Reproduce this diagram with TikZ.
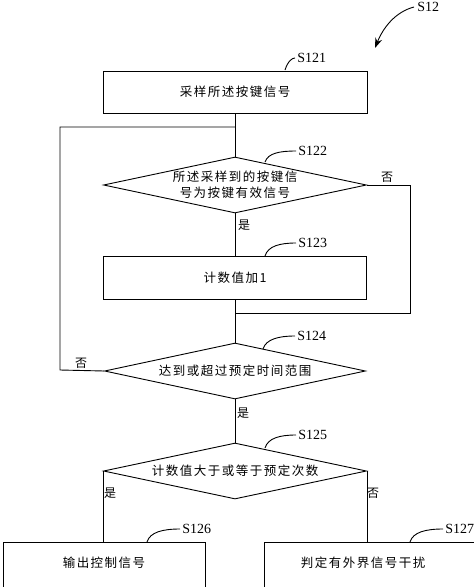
\documentclass[tikz,border=0pt]{standalone}
\usepackage{fontspec}
\setmainfont{Liberation Serif}
\newfontfamily\cjk{Noto Sans CJK SC}[LetterSpace=12]
\usetikzlibrary{shapes.geometric,arrows.meta}
\begin{document}
\begin{tikzpicture}[x=1pt,y=-1pt,line width=0.9pt,
  box/.style={draw,rectangle,inner sep=0pt,font=\cjk\fontsize{12.5}{16}\selectfont},
  dia/.style={draw,diamond,aspect=4.7,inner sep=0pt,minimum width=263pt,minimum height=56pt,align=center,font=\cjk\fontsize{12.5}{16}\selectfont},
  lbl/.style={anchor=west,inner sep=0pt,font=\fontsize{14}{16}\selectfont},
  yn/.style={inner sep=0pt,font=\cjk\fontsize{12}{14}\selectfont},
  lead/.style={shorten >=2pt}]
\useasboundingbox (0,0) rectangle (474,587);
% nodes
\node[box,minimum width=264pt,minimum height=42pt] (b1) at (235,92) {采样所述按键信号};
\node[dia] (d1) at (235,185) {所述采样到的按键信\\号为按键有效信号};
\node[box,minimum width=263pt,minimum height=43pt] (b2) at (235,277.5) {计数值加1};
\node[dia,minimum width=261pt] (d2) at (235,371) {达到或超过预定时间范围};
\node[dia] (d3) at (235,471) {计数值大于或等于预定次数};
\node[box,minimum width=202pt,minimum height=48pt] (b6) at (104,566) {};
\node[box,minimum width=216pt,minimum height=48pt] (b7) at (372,566) {};
\node[inner sep=0pt,font=\cjk\fontsize{12.5}{16}\selectfont] (t6) at (104,563) {输出控制信号};
\node[inner sep=0pt,font=\cjk\fontsize{12.5}{16}\selectfont] (t7) at (363,563) {判定有外界信号干扰};
% step labels
\node[lbl] (s12) at (417,7) {S12};
\node[lbl] (s121) at (297,58) {S121};
\node[lbl] (s122) at (298,151) {S122};
\node[lbl] (s123) at (298,243) {S123};
\node[lbl] (s124) at (297,336) {S124};
\node[lbl] (s125) at (298,435) {S125};
\node[lbl] (s126) at (182,529) {S126};
\node[lbl] (s127) at (445,529) {S127};
% yes/no
\node[yn] (y1) at (244,225) {是};
\node[yn] (n1) at (387,177) {否};
\node[yn] (n2) at (81,363) {否};
\node[yn] (y2) at (243,413) {是};
\node[yn] (y3) at (110,493) {是};
\node[yn] (n3) at (373,493) {否};
% coordinates
\coordinate (j1) at (235,127);
\coordinate (j2) at (235,313);
\coordinate (r1) at (410,185);
\coordinate (r2) at (410,313);
\coordinate (l1) at (60,370);
\coordinate (l2) at (60,127);
% connectors
\draw (b1.south) -- (d1.north);
\draw (d1.south) -- (b2.north);
\draw (b2.south) -- (d2.north);
\draw (d2.south) -- (d3.north);
\draw (d1.east) -- (r1) -- (r2) -- (j2);
\draw (d2.west) -- (l1) -- (l2) -- (j1);
\draw (d3.west) -- (d3.west |- b6.north);
\draw (d3.east) -- (d3.east |- b7.north);
% leaders
\draw[-{Stealth[length=10pt,width=7pt]}] ([xshift=-3pt]s12.west) .. controls (395,12) and (383,28) .. (375,48);
\draw[lead] (285,70) .. controls (288,61) and (292,58) .. (s121.west);
\draw[lead] (265,162) .. controls (268,153) and (280,151) .. (s122.west);
\draw[lead] (265,256) .. controls (268,246) and (280,243) .. (s123.west);
\draw[lead] (263,349) .. controls (266,339) and (279,336) .. (s124.west);
\draw[lead] (265,448) .. controls (268,438) and (280,435) .. (s125.west);
\draw[lead] (147,542) .. controls (150,532) and (163,529) .. (s126.west);
\draw[lead] (410,542) .. controls (413,532) and (426,529) .. (s127.west);
\end{tikzpicture}
\end{document}
